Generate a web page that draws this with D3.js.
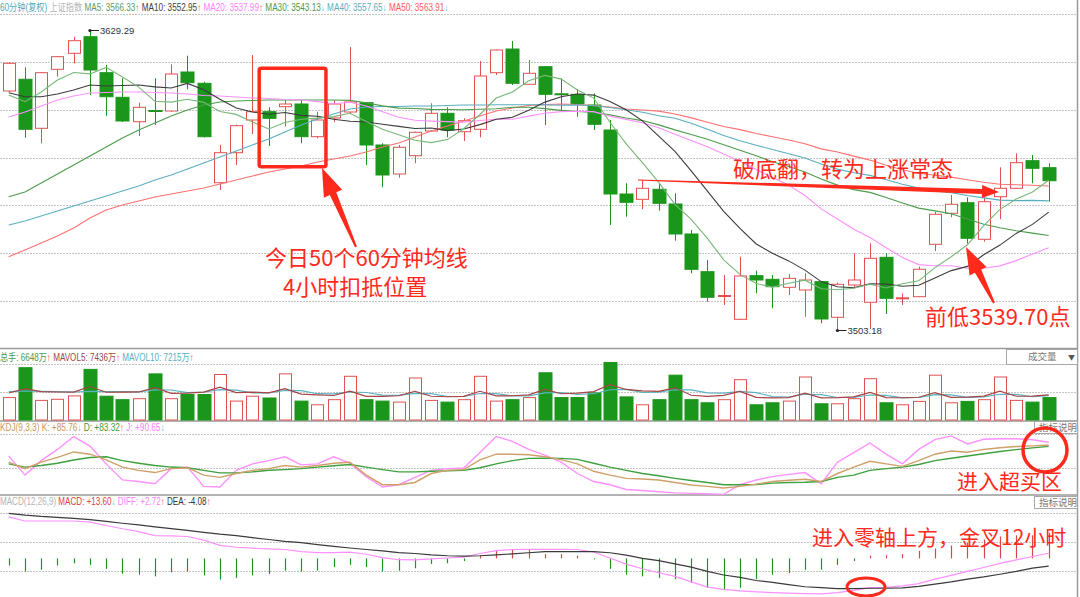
<!DOCTYPE html>
<html><head><meta charset="utf-8">
<script src="https://cdn.jsdelivr.net/npm/d3@7"></script>
<style>html,body{margin:0;padding:0;background:#fff;}svg{display:block;}</style>
</head><body>
<svg id="chart" width="1080" height="597"></svg>
<script>
// ---------------- DATA ----------------
const open = [3603.86,3608.78,3588.18,3612.98,3619.70,3626.68,3611.55,3601.21,3590.95,3595.66,3595.45,3611.84,3607.09,3565.31,3577.92,3591.67,3595.16,3597.26,3598.39,3584.65,3592.51,3595.03,3598.94,3581.16,3568.97,3576.66,3587.04,3594.48,3586.75,3587.76,3611.55,3621.51,3606.67,3614.07,3602.68,3602.47,3597.97,3587.46,3560.56,3558.33,3562.54,3556.36,3543.75,3527.90,3517.47,3507.89,3526.22,3524.70,3521.34,3520.21,3523.70,3508.73,3522.31,3515.04,3533.95,3516.51,3517.39,3539.42,3552.45,3556.90,3541.52,3559.43,3562.96,3574.56,3571.62];
const high = [3616.05,3613.82,3611.84,3618.57,3626.68,3629.29,3614.79,3609.20,3598.94,3609.20,3615.08,3618.70,3607.77,3581.16,3589.78,3618.99,3597.01,3600.07,3600.07,3595.16,3600.07,3622.35,3599.23,3581.87,3581.16,3586.75,3598.69,3597.01,3592.38,3616.47,3621.30,3624.88,3616.89,3614.37,3609.20,3604.57,3602.89,3591.67,3565.06,3566.45,3565.06,3560.85,3545.43,3532.82,3526.51,3534.20,3528.32,3526.51,3526.93,3527.23,3523.99,3523.27,3535.63,3539.84,3535.63,3518.82,3530.00,3553.12,3560.14,3559.17,3559.17,3571.78,3577.67,3576.95,3573.47];
const low = [3603.44,3584.23,3581.87,3609.87,3615.50,3602.18,3593.47,3590.83,3584.94,3589.56,3595.03,3604.57,3584.31,3562.24,3572.75,3585.78,3580.74,3588.85,3581.87,3583.97,3590.83,3594.19,3572.75,3563.38,3567.41,3573.47,3586.75,3584.39,3582.84,3584.39,3610.58,3606.38,3606.59,3589.56,3595.87,3593.05,3587.46,3547.53,3551.02,3554.13,3553.54,3540.93,3527.23,3515.29,3513.90,3507.59,3518.82,3512.51,3518.10,3508.98,3506.21,3503.18,3520.92,3503.81,3510.12,3513.90,3517.26,3536.60,3550.77,3539.70,3540.51,3549.93,3562.66,3565.06,3557.32];
const close = [3615.50,3587.76,3611.55,3618.28,3625.00,3612.68,3601.46,3591.25,3597.01,3595.24,3611.00,3607.35,3584.65,3577.92,3589.27,3595.16,3592.38,3598.39,3584.65,3591.67,3598.39,3599.23,3581.16,3568.55,3580.19,3586.50,3594.48,3587.46,3591.37,3610.16,3621.09,3607.09,3611.30,3602.47,3602.26,3598.39,3589.86,3560.56,3557.07,3562.96,3556.65,3543.75,3528.91,3517.14,3517.89,3526.09,3524.41,3521.59,3525.12,3524.41,3508.02,3522.60,3524.41,3533.53,3516.72,3516.93,3528.91,3552.03,3556.23,3541.94,3557.32,3562.96,3573.72,3571.36,3566.15];

const ma5 = [3602.18,3599.36,3603.44,3608.48,3611.63,3611.05,3613.78,3609.74,3605.50,3599.53,3599.19,3600.37,3599.07,3595.24,3594.02,3590.87,3587.88,3590.62,3591.96,3592.47,3593.10,3594.48,3591.04,3587.80,3585.49,3583.13,3582.17,3583.43,3588.01,3593.98,3600.91,3603.44,3608.19,3610.41,3608.86,3604.32,3600.87,3590.70,3581.62,3573.76,3565.44,3556.19,3549.88,3541.90,3532.86,3526.76,3522.90,3521.42,3523.02,3524.33,3520.71,3520.33,3520.92,3522.60,3521.05,3522.85,3524.11,3529.62,3534.16,3539.21,3547.28,3554.09,3558.42,3561.44,3566.33];
const ma10 = [3603.14,3601.46,3601.46,3602.60,3604.28,3606.38,3605.96,3606.17,3606.38,3605.58,3605.12,3607.05,3604.40,3600.37,3596.75,3595.03,3594.11,3594.82,3593.60,3593.22,3591.96,3591.16,3590.83,3589.86,3588.98,3588.09,3588.30,3587.21,3587.88,3589.73,3592.00,3592.80,3595.79,3599.19,3601.42,3602.60,3602.13,3599.44,3596.00,3591.29,3584.86,3578.51,3570.27,3561.74,3553.29,3546.10,3539.54,3535.63,3532.44,3528.57,3523.74,3521.59,3521.17,3522.81,3522.69,3521.76,3522.22,3525.25,3528.36,3530.13,3535.04,3539.08,3544.00,3547.78,3552.95];
const ma20 = [3592.93,3595.03,3597.55,3600.07,3601.76,3603.02,3603.23,3603.44,3603.44,3603.23,3603.02,3602.60,3601.97,3601.76,3601.34,3600.91,3600.70,3600.28,3600.07,3599.40,3598.52,3599.11,3597.59,3595.11,3592.84,3591.54,3591.20,3590.99,3590.74,3591.46,3591.96,3591.96,3593.31,3594.53,3595.20,3595.32,3595.20,3593.31,3591.92,3590.49,3588.43,3585.66,3583.01,3580.44,3577.33,3574.35,3570.82,3567.54,3564.22,3559.93,3554.30,3550.05,3545.72,3542.27,3537.99,3533.91,3530.88,3530.42,3530.38,3529.33,3529.37,3530.34,3532.56,3535.30,3537.99];
const ma30 = [3559.43,3561.40,3565.18,3568.97,3572.75,3576.53,3580.32,3584.10,3587.46,3590.41,3593.35,3595.87,3597.97,3599.23,3599.65,3599.86,3600.07,3600.07,3600.07,3600.07,3600.07,3599.91,3598.90,3597.59,3596.67,3596.50,3596.12,3596.08,3595.95,3596.16,3596.37,3597.01,3597.01,3596.46,3595.70,3595.24,3594.86,3593.81,3592.51,3591.42,3589.61,3587.51,3585.61,3583.60,3581.24,3578.93,3576.66,3574.10,3572.12,3569.85,3566.87,3564.30,3562.41,3561.23,3559.13,3556.82,3554.63,3553.46,3552.28,3550.01,3547.87,3546.39,3545.13,3544.12,3543.13];
const ma40 = [3547.53,3549.21,3551.31,3553.41,3555.52,3557.62,3559.72,3561.82,3563.92,3566.45,3568.55,3571.07,3573.59,3576.11,3578.64,3581.16,3583.68,3586.62,3589.56,3592.09,3594.19,3596.29,3597.13,3597.34,3597.34,3597.55,3597.55,3597.76,3597.97,3597.97,3598.06,3598.10,3598.10,3598.01,3597.85,3598.01,3597.64,3596.92,3595.95,3594.95,3593.47,3592.38,3590.32,3587.80,3585.11,3582.97,3581.03,3579.27,3577.46,3575.69,3573.13,3571.03,3569.51,3568.38,3566.57,3564.64,3563.04,3561.86,3561.15,3559.93,3558.92,3558.00,3557.79,3557.87,3557.65];
const ma50 = [3534.20,3537.02,3539.96,3542.91,3546.27,3550.47,3553.83,3555.94,3557.62,3559.30,3560.56,3561.82,3563.08,3564.76,3566.45,3568.13,3569.81,3571.07,3572.33,3574.01,3575.27,3576.53,3578.22,3580.32,3582.00,3584.52,3587.04,3589.14,3591.25,3593.35,3595.45,3596.71,3597.76,3598.18,3598.39,3598.18,3597.76,3597.13,3596.29,3595.87,3595.41,3594.19,3592.55,3590.74,3588.93,3587.63,3585.99,3584.65,3583.26,3581.66,3579.52,3578.22,3576.49,3574.81,3572.62,3570.73,3569.26,3568.46,3567.66,3566.57,3565.52,3564.64,3564.43,3564.26,3563.91];

// volume in 万手
const vol = [6650,15520,5820,6140,7150,15020,7060,6030,6320,13680,6320,7570,7570,13500,5610,7060,6530,13680,5610,4510,6030,12970,6030,5610,5310,12470,5820,5310,6030,12970,5610,6030,6650,14010,6650,6650,8070,17070,6860,4510,6030,13300,6030,5110,6030,11960,4510,5110,5610,12760,4810,4810,6320,12260,5110,4510,5520,13300,5110,5520,6030,12760,5820,5310,6648];
const mavol5 = [8000,9300,8400,8300,8256,9930,8238,8280,8316,9622,7882,7984,8292,9728,8114,8262,8054,9276,7698,7478,7272,8560,7030,7030,7190,8478,7048,6904,6988,8520,7148,7190,7458,9054,7790,7998,8406,10490,9060,8632,8508,9554,7346,6996,7300,8486,6728,6544,6644,7990,6560,6620,6862,8192,6662,6602,6744,8140,6710,6792,7096,8544,7048,7088,7436];
const mavol10 = [8400,8600,8500,8400,8300,8500,8400,8400,8300,8939,8906,8111,8286,9022,8868,8072,8019,8784,8713,7796,7767,8307,8153,7364,7334,7875,7804,6967,7009,7855,7813,7119,7181,8021,8155,7573,7798,8974,9057,8211,8253,8980,8918,8028,7966,8497,8141,6945,6820,7645,7523,6674,6703,7418,7326,6581,6682,7501,7451,6727,6849,7644,7594,6899,7215];

const kK = [55.0,43.5,55.0,63.5,73.3,69.3,59.0,46.3,40.5,36.5,43.5,45.2,32.0,28.0,34.8,40.5,43.5,49.2,46.3,49.2,53.2,55.0,32.0,14.8,14.8,18.8,34.8,40.5,41.7,59.0,69.3,69.3,68.2,64.7,59.5,52.0,38.8,32.0,26.2,25.0,23.3,18.8,14.2,11.8,9.0,11.8,15.8,20.5,22.8,24.5,20.5,34.8,46.3,56.7,52.0,47.5,57.8,69.3,75.0,72.7,77.8,80.8,83.0,84.2,85.76];
const kD = [52.0,46.3,49.2,53.2,59.0,63.5,64.7,57.8,53.2,49.2,46.3,45.2,40.5,36.0,36.0,37.7,40.5,41.7,43.5,46.3,48.7,50.8,46.3,41.7,37.7,37.7,38.8,39.5,40.5,45.2,52.0,57.8,61.8,62.3,61.8,60.0,53.2,46.3,40.5,34.8,30.8,26.2,22.2,18.8,14.8,14.8,15.3,17.7,18.8,19.3,20.5,28.0,32.0,40.5,43.5,46.3,50.8,57.8,62.0,66.0,70.0,74.0,77.5,80.5,83.32];
const kJ = [66.3,32.0,57.8,77.8,100.8,83.7,52.0,23.3,20.5,16.5,43.5,46.3,11.8,10.7,40.5,52.0,57.8,64.7,50.3,52.0,64.7,53.2,29.2,10.7,14.8,28.0,40.5,43.5,44.7,72.2,100.8,92.2,77.8,67.5,55.0,34.8,20.5,14.8,6.2,4.5,2.2,0.3,-0.7,-1.3,-2.5,14.8,23.3,29.2,33.2,36.5,16.5,55.0,72.2,89.3,69.3,52.0,77.8,95.2,102.0,87.7,96.0,97.0,97.0,95.0,90.65];

const diff = [22.0,19.8,19.8,19.8,19.8,19.2,17.4,15.7,14.2,12.1,11.9,11.6,9.7,6.9,5.9,5.4,5.0,4.7,3.6,3.1,3.1,3.3,2.2,0.4,-0.7,-0.8,-0.2,0.2,0.7,2.6,4.1,4.7,4.8,4.8,4.8,4.7,3.4,0.2,-3.0,-5.5,-7.6,-9.5,-12.4,-15.2,-16.4,-17.2,-17.7,-18.1,-18.4,-18.6,-18.8,-18.1,-16.9,-15.5,-15.3,-14.5,-13.3,-11.0,-9.0,-6.9,-4.8,-2.6,-0.8,1.0,2.72];
const dea = [23.8,22.9,22.2,21.7,21.2,20.5,19.6,18.6,17.7,16.7,15.8,14.8,13.8,12.8,12.0,11.0,10.0,9.0,8.3,7.3,6.4,5.5,4.7,4.0,3.1,2.6,1.9,1.4,1.2,1.4,1.9,2.4,3.0,3.6,3.6,3.6,3.6,3.0,1.7,0.0,-1.2,-2.9,-4.6,-6.9,-8.8,-10.0,-11.7,-12.7,-13.9,-15.0,-15.5,-16.0,-16.0,-15.8,-15.8,-15.6,-14.8,-13.6,-12.4,-11.0,-9.8,-8.4,-6.9,-5.1,-4.08];
const macd = [-3.8,-6.9,-6.0,-3.8,-2.6,-3.4,-5.5,-8.1,-8.6,-9.5,-7.4,-6.9,-9.0,-11.2,-10.3,-9.0,-8.3,-6.5,-6.9,-6.4,-4.6,-3.4,-4.6,-6.9,-6.5,-5.2,-2.9,-2.6,-1.4,1.4,4.5,4.5,4.5,2.2,2.2,1.4,-0.5,-5.5,-8.6,-9.5,-10.3,-11.0,-12.9,-15.5,-16.4,-15.5,-11.0,-8.6,-7.7,-6.0,-6.0,-3.4,-1.4,1.4,1.7,2.2,4.0,5.2,6.8,8.2,10.0,11.6,12.2,12.2,13.6];

const priceGrid = [3636.2,3616.1,3596.0,3575.9,3555.8,3535.7,3515.6];
const volGrid = [16650,8160];
const kdjGrid = [104.5,45.5];
const macdGrid = [23.8,8.7,-6.5];

// ---------------- DRAW ----------------
const svg = d3.select('#chart');
const N = open.length;
const idx = d3.range(N);
const x = d3.scaleLinear().domain([0, N-1]).range([8.7, 1048.7]);
const yP = d3.scaleLinear().domain([3503.18, 3629.29]).range([330.5, 30.5]);
const yV = d3.scaleLinear().domain([0, 17000]).range([420, 362.7]);
const yK = d3.scaleLinear().domain([0, 100]).range([493, 437]);
const yM = d3.scaleLinear().domain([-20, 25]).range([596.2, 511.15]);

const UP = '#e05252', DN = '#1a961a';
const RIGHT = 1077;
const px = v => Math.round(v) + 0.5;

svg.append('rect').attr('width',1080).attr('height',597).attr('fill','#fff');

function grid(scale, vals){
  svg.append('g').selectAll('line').data(vals).join('line')
    .attr('x1',0).attr('x2',RIGHT)
    .attr('y1',d=>px(scale(d))).attr('y2',d=>px(scale(d)))
    .attr('stroke','#c4c4c4').attr('stroke-width',1).attr('stroke-dasharray','2,1');
}
grid(yP, priceGrid); grid(yV, volGrid); grid(yK, kdjGrid); grid(yM, macdGrid);

svg.append('g').selectAll('line').data([348.5, 421, 495]).join('line')
  .attr('x1',0).attr('x2',RIGHT).attr('y1',d=>d).attr('y2',d=>d)
  .attr('stroke','#9a9a9a').attr('stroke-width',1.5);
svg.append('line').attr('x1',RIGHT+0.5).attr('x2',RIGHT+0.5).attr('y1',0).attr('y2',597)
  .attr('stroke','#9a9a9a').attr('stroke-width',1.5);

// candles
const cg = svg.append('g');
const isUp = i => close[i] >= open[i];
cg.selectAll('line.wk').data(idx).join('line').attr('class','wk')
  .attr('x1',i=>px(x(i))).attr('x2',i=>px(x(i)))
  .attr('y1',i=>yP(high[i])).attr('y2',i=>yP(low[i]))
  .attr('stroke',i=>isUp(i)?UP:DN).attr('stroke-width',1);
cg.selectAll('rect.bd').data(idx).join('rect').attr('class','bd')
  .attr('x',i=>isUp(i)? Math.round(x(i))-5.5 : Math.round(x(i))-6)
  .attr('width',i=>isUp(i)?12:13)
  .attr('y',i=>Math.min(yP(open[i]),yP(close[i])))
  .attr('height',i=>Math.max(Math.abs(yP(open[i])-yP(close[i])),1))
  .attr('fill',i=>isUp(i)?'#fff':DN)
  .attr('stroke',i=>isUp(i)?UP:DN).attr('stroke-width',1);

// MA lines
const mas = [[ma50,'#ff7070'],[ma40,'#5aaebe'],[ma30,'#4c9c4c'],[ma20,'#ff90ff'],[ma10,'#3c3c3c'],[ma5,'#78b878']];
mas.forEach(([arr,col])=>{
  svg.append('path').datum(arr)
    .attr('d', d3.line().x((d,i)=>x(i)).y(d=>yP(d)))
    .attr('fill','none').attr('stroke',col).attr('stroke-width',1.1);
});

// extreme labels
function extLabel(i, price){
  const cx = x(i), cy = yP(price);
  svg.append('circle').attr('cx',cx).attr('cy',cy).attr('r',1.6).attr('fill','#222');
  svg.append('line').attr('x1',cx).attr('x2',cx+9).attr('y1',cy).attr('y2',cy).attr('stroke','#222');
  svg.append('text').attr('x',cx+10).attr('y',cy+3.5).attr('font-size',9.5)
    .attr('font-family','"Liberation Sans",sans-serif').attr('fill','#333').text(price.toFixed(2));
}
const iMax = d3.maxIndex(high), iMin = d3.minIndex(low);
extLabel(iMax, high[iMax]); extLabel(iMin, low[iMin]);

// volume bars
const vg = svg.append('g');
vg.selectAll('rect').data(idx).join('rect')
  .attr('x',i=>isUp(i)? Math.round(x(i))-5.5 : Math.round(x(i))-6)
  .attr('width',i=>isUp(i)?12:13)
  .attr('y',i=>yV(vol[i])).attr('height',i=>yV(0)-yV(vol[i]))
  .attr('fill',i=>isUp(i)?'#fff':DN)
  .attr('stroke',i=>isUp(i)?UP:DN).attr('stroke-width',1);
[[mavol10,'#5ab4c4'],[mavol5,'#a84444']].forEach(([arr,col])=>{
  svg.append('path').datum(arr).attr('d', d3.line().x((d,i)=>x(i)).y(d=>yV(d)))
    .attr('fill','none').attr('stroke',col).attr('stroke-width',1.2);
});

// KDJ
[[kJ,'#ff90ff'],[kD,'#3ea03e'],[kK,'#cfa06a']].forEach(([arr,col])=>{
  svg.append('path').datum(arr).attr('d', d3.line().x((d,i)=>x(i)).y(d=>yK(d)))
    .attr('fill','none').attr('stroke',col).attr('stroke-width',1.4);
});

// MACD
svg.append('g').selectAll('line').data(idx).join('line')
  .attr('x1',i=>px(x(i))).attr('x2',i=>px(x(i)))
  .attr('y1',yM(0)).attr('y2',i=>yM(macd[i]))
  .attr('stroke',i=>macd[i]>=0?'#d84848':'#1a961a').attr('stroke-width',1.2);
[[diff,'#ff90ff'],[dea,'#3a3a3a']].forEach(([arr,col])=>{
  svg.append('path').datum(arr).attr('d', d3.line().x((d,i)=>x(i)).y(d=>yM(d)))
    .attr('fill','none').attr('stroke',col).attr('stroke-width',1.2);
});

// ---------------- HEADERS ----------------
const RED='#ff4040', CYAN='#3cc4ee';
function header(y, targetW, segs){
  const t = svg.append('text').attr('x',0).attr('y',0)
    .attr('font-family','"Liberation Sans","DejaVu Sans","Noto Sans CJK SC",sans-serif')
    .attr('font-size',10).style('white-space','pre');
  segs.forEach(s=>{ t.append('tspan').attr('fill',s[1]).text(s[0]); });
  const w = t.node().getComputedTextLength();
  t.attr('transform',`translate(0,${y}) scale(${targetW/w},1)`);
}
const L = a => a[a.length-1];
const f2 = v => v.toFixed(2);
const sg = v => (v>=0?'+':'')+v.toFixed(2);
header(11, 449, [
  ['60分钟(复权)','#4aaabb'],[' 上证指数','#b4b4b4'],
  [' MA5: '+f2(L(ma5)),'#5f9a5f'],['↑',RED],
  [' MA10: '+f2(L(ma10)),'#404040'],['↑',RED],
  [' MA20: '+f2(L(ma20)),'#ff80ff'],['↑',RED],
  [' MA30: '+f2(L(ma30)),'#4a9a4a'],['↓',CYAN],
  [' MA40: '+f2(L(ma40)),'#5ab0c0'],['↓',CYAN],
  [' MA50: '+f2(L(ma50)),'#ff5a5a'],['↓',CYAN]
]);
header(360.5, 194, [
  ['总手: '+Math.round(L(vol))+'万','#4a9a4a'],['↑',RED],
  [' MAVOL5: '+Math.round(L(mavol5))+'万','#a04848'],['↑',RED],
  [' MAVOL10: '+Math.round(L(mavol10))+'万','#5ab0c0'],['↑',RED]
]);
header(431, 165, [
  ['KDJ(9,3,3) K: '+sg(L(kK)),'#c89860'],['↓',CYAN],
  [' D: '+sg(L(kD)),'#3a9a3a'],['↑',RED],
  [' J: '+sg(L(kJ)),'#ff80ff'],['↓',CYAN]
]);
header(505, 211, [
  ['MACD(12,26,9)','#b4b4b4'],
  [' MACD: '+sg(L(macd)),'#e04040'],['↓',CYAN],
  [' DIFF: '+sg(L(diff)),'#ff80ff'],['↑',RED],
  [' DEA: '+sg(L(dea)),'#333333'],['↑',RED]
]);

// right-side buttons
function btn(x0,y0,w,h,label,arrow){
  const g = svg.append('g');
  g.append('rect').attr('x',x0+0.5).attr('y',y0+0.5).attr('width',w).attr('height',h)
    .attr('fill','#fff').attr('stroke','#a8a8a8');
  const t = g.append('text').attr('y',y0+h/2+3.5)
    .attr('font-size',9.5).attr('font-family','"Noto Sans CJK SC",sans-serif').attr('fill','#777');
  t.append('tspan').attr('x',x0+(arrow?22:5)).text(label);
  if(arrow) t.append('tspan').attr('x',x0+w-9).attr('font-size',7).attr('fill','#555').text('▼');
}
btn(1006,349,71,15,'成交量',true);
btn(1034,421,43,12,'指标说明',false);
btn(1034,496,43,12,'指标说明',false);

// ---------------- ANNOTATIONS ----------------
const AR = '#ff2a1c';
const ag = svg.append('g');
function arrow(x0,y0,x1,y1,w0,w1,Lh,Wh){
  const dx=x1-x0, dy=y1-y0, len=Math.hypot(dx,dy);
  const ux=dx/len, uy=dy/len, nx=-uy, ny=ux;
  const bx=x1-ux*Lh, by=y1-uy*Lh;
  const pts=[[x0+nx*w0/2,y0+ny*w0/2],[bx+nx*w1/2,by+ny*w1/2],[bx+nx*Wh/2,by+ny*Wh/2],[x1,y1],
             [bx-nx*Wh/2,by-ny*Wh/2],[bx-nx*w1/2,by-ny*w1/2],[x0-nx*w0/2,y0-ny*w0/2]];
  ag.append('polygon').attr('points',pts.map(p=>p.join(',')).join(' ')).attr('fill',AR);
}
ag.append('rect').attr('x',x(16)-9.5).attr('y',yP(3613.4))
  .attr('width',(x(19)+8.5)-(x(16)-9.5)).attr('height',yP(3572.0)-yP(3613.4))
  .attr('rx',2).attr('fill','none').attr('stroke',AR).attr('stroke-width',3.5);
arrow(356,247, 322,168, 2,7,28,20);
arrow(638,180, 999,192, 1.2,5,17,13);
arrow(994,303, 966,247, 2,7,27,19);
ag.append('ellipse').attr('cx',1045).attr('cy',450).attr('rx',22).attr('ry',22)
  .attr('fill','none').attr('stroke',AR).attr('stroke-width',3.5);
ag.append('ellipse').attr('cx',866).attr('cy',587).attr('rx',19).attr('ry',9)
  .attr('fill','none').attr('stroke',AR).attr('stroke-width',3);

const notes = [
  [265,266,'今日50个60分钟均线',22],
  [283,295,'4小时扣抵位置',22],
  [733,177,'破底翻，转为上涨常态',22],
  [925,325,'前低3539.70点',22],
  [957,489,'进入超买区',21],
  [812,545,'进入零轴上方，金叉12小时',21]
];
ag.selectAll('text.note').data(notes).join('text').attr('class','note')
  .attr('x',d=>d[0]).attr('y',d=>d[1]).attr('font-size',d=>d[3])
  .attr('font-family','"Noto Sans CJK SC",sans-serif').attr('fill',AR).text(d=>d[2]);
</script>
</body></html>
